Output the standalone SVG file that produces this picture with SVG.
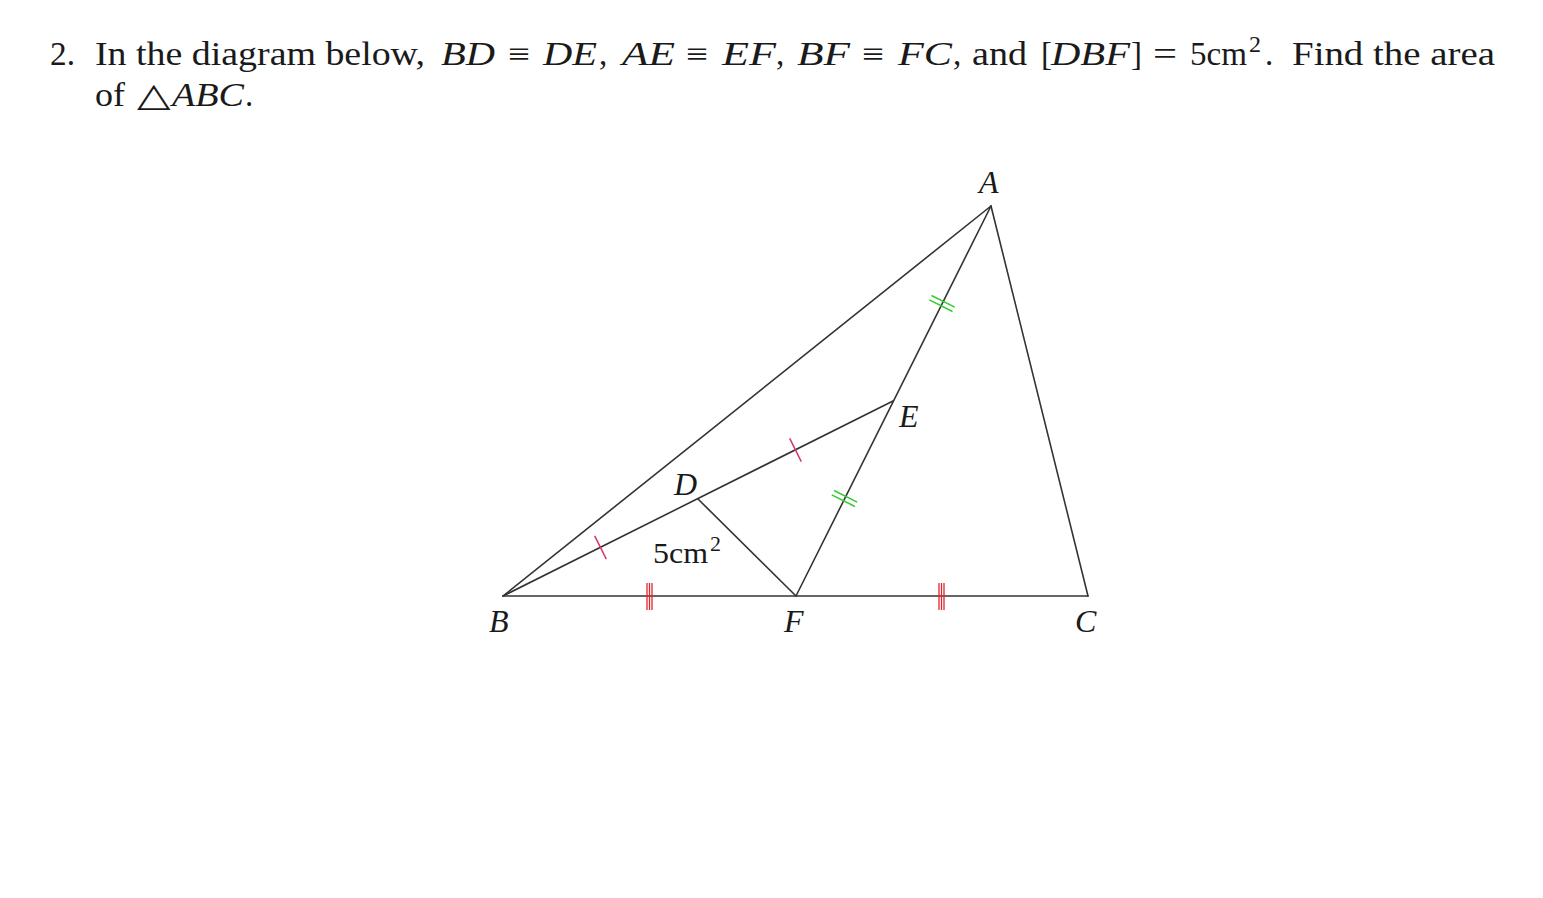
<svg xmlns="http://www.w3.org/2000/svg" width="1543" height="898" viewBox="0 0 1543 898">
<style>
.t{font-family:"Liberation Serif","Times New Roman",serif;font-size:33px;fill:#1a1a1a}
.i{font-style:italic}
.sup{font-size:23px}
.l{font-family:"Liberation Serif","Times New Roman",serif;font-size:32px;font-style:italic;fill:#1a1a1a}
.n{font-family:"Liberation Serif","Times New Roman",serif;font-size:30px;fill:#1a1a1a}
.nsup{font-size:22px}
.ln{stroke:#333;stroke-width:1.6;fill:none;stroke-linecap:round}
.pk{stroke:#d23a6e;stroke-width:1.5}
.gr{stroke:#33cc33;stroke-width:1.5}
.rd{stroke:#e0282e;stroke-width:1.3}
</style>
<rect width="1543" height="898" fill="#fff"/>
<g id="title">
<text class="t" x="50" y="65" textLength="25" lengthAdjust="spacingAndGlyphs">2.</text>
<text class="t" x="95" y="65" textLength="330" lengthAdjust="spacingAndGlyphs">In the diagram below,</text>
<text class="t i" x="441" y="65" textLength="54" lengthAdjust="spacingAndGlyphs">BD</text>
<text class="t" x="508" y="65" textLength="22" lengthAdjust="spacingAndGlyphs">≡</text>
<text class="t i" x="543" y="65" textLength="54" lengthAdjust="spacingAndGlyphs">DE</text>
<text class="t" x="599" y="65">,</text>
<text class="t i" x="622" y="65" textLength="53" lengthAdjust="spacingAndGlyphs">AE</text>
<text class="t" x="686" y="65" textLength="22" lengthAdjust="spacingAndGlyphs">≡</text>
<text class="t i" x="722" y="65" textLength="54" lengthAdjust="spacingAndGlyphs">EF</text>
<text class="t" x="776" y="65">,</text>
<text class="t i" x="797" y="65" textLength="53" lengthAdjust="spacingAndGlyphs">BF</text>
<text class="t" x="862" y="65" textLength="22" lengthAdjust="spacingAndGlyphs">≡</text>
<text class="t i" x="898" y="65" textLength="54" lengthAdjust="spacingAndGlyphs">FC</text>
<text class="t" x="953" y="65">,</text>
<text class="t" x="972" y="65" textLength="55" lengthAdjust="spacingAndGlyphs">and</text>
<text class="t" x="1041" y="65">[</text>
<text class="t i" x="1051" y="65" textLength="79" lengthAdjust="spacingAndGlyphs">DBF</text>
<text class="t" x="1131" y="65">]</text>
<text class="t" x="1153" y="65" textLength="24" lengthAdjust="spacingAndGlyphs">=</text>
<text class="t" x="1190" y="65" textLength="57" lengthAdjust="spacingAndGlyphs">5cm</text>
<text class="t sup" x="1249" y="52" textLength="12" lengthAdjust="spacingAndGlyphs">2</text>
<text class="t" x="1265" y="65">.</text>
<text class="t" x="1292" y="65" textLength="203" lengthAdjust="spacingAndGlyphs">Find the area</text>
<text class="t" x="95" y="106" textLength="30" lengthAdjust="spacingAndGlyphs">of</text>
<text class="t" x="137" y="106" textLength="33" lengthAdjust="spacingAndGlyphs">△</text>
<text class="t i" x="172" y="106" textLength="72" lengthAdjust="spacingAndGlyphs">ABC</text>
<text class="t" x="245" y="106">.</text>
</g>
<g id="connectors">
<line class="ln" x1="991" y1="206" x2="503" y2="596"/>
<line class="ln" x1="991" y1="206" x2="1088" y2="596"/>
<line class="ln" x1="503" y1="596" x2="1088" y2="596"/>
<line class="ln" x1="991" y1="206" x2="796" y2="596"/>
<line class="ln" x1="503" y1="596" x2="893" y2="401"/>
<line class="ln" x1="698" y1="499" x2="796" y2="596"/>
</g>
<g id="ticks">
<line class="pk" x1="594.7" y1="535.9" x2="606.3" y2="559.1"/>
<line class="pk" x1="789.7" y1="438.4" x2="801.3" y2="461.6"/>
<line class="gr" x1="929.3" y1="299.9" x2="952.5" y2="311.5"/>
<line class="gr" x1="931.5" y1="295.5" x2="954.7" y2="307.1"/>
<line class="gr" x1="831.8" y1="494.9" x2="855" y2="506.5"/>
<line class="gr" x1="834" y1="490.5" x2="857.2" y2="502.1"/>
<line class="rd" x1="647" y1="583" x2="647" y2="610"/>
<line class="rd" x1="649.5" y1="583" x2="649.5" y2="610"/>
<line class="rd" x1="652" y1="583" x2="652" y2="610"/>
<line class="rd" x1="939" y1="583" x2="939" y2="610"/>
<line class="rd" x1="941.5" y1="583" x2="941.5" y2="610"/>
<line class="rd" x1="944" y1="583" x2="944" y2="610"/>
</g>
<g id="node-A"><text class="l" x="979" y="193">A</text></g>
<g id="node-B"><text class="l" x="489" y="632">B</text></g>
<g id="node-C"><text class="l" x="1075" y="632">C</text></g>
<g id="node-D"><text class="l" x="674" y="495">D</text></g>
<g id="node-E"><text class="l" x="899" y="427">E</text></g>
<g id="node-F"><text class="l" x="784" y="632">F</text></g>
<g id="area-label">
<text class="n" x="653" y="563" textLength="55" lengthAdjust="spacingAndGlyphs">5cm</text>
<text class="n nsup" x="710" y="551">2</text>
</g>
</svg>
